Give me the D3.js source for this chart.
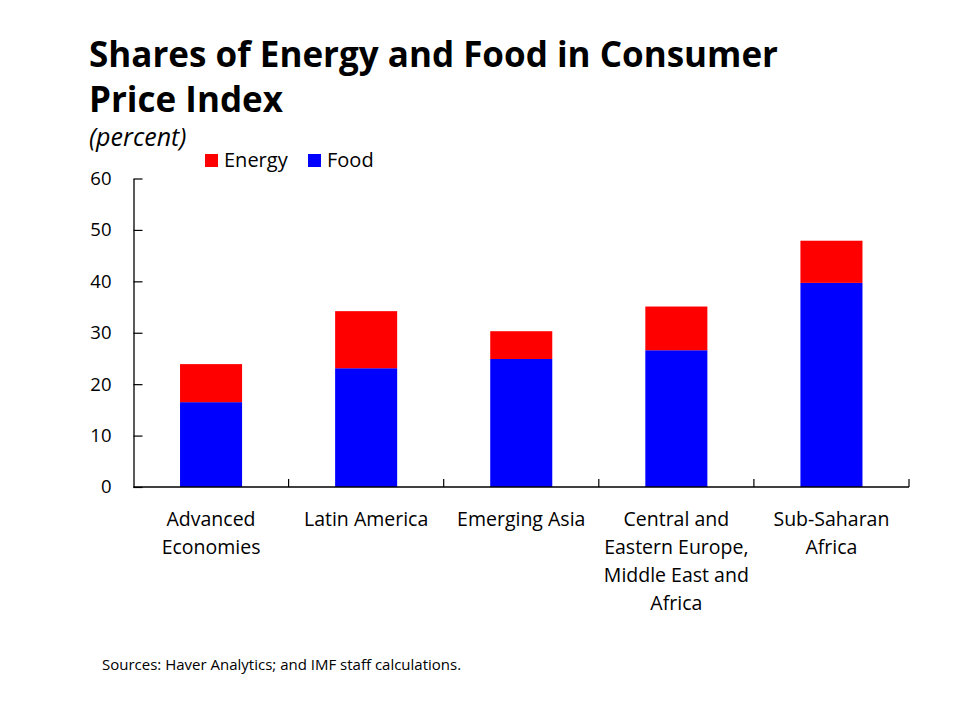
<!DOCTYPE html>
<html><head><meta charset="utf-8">
<script src="https://cdn.jsdelivr.net/npm/d3@7"></script>
<style>
body{margin:0;background:#fff;}
text{font-family:"Open Sans","Noto Sans",sans-serif;fill:#000;}
</style></head>
<body>
<svg id="chart" width="960" height="720"></svg>
<script>
const categories = [
  ["Advanced", "Economies"],
  ["Latin America"],
  ["Emerging Asia"],
  ["Central and", "Eastern Europe,", "Middle East and", "Africa"],
  ["Sub-Saharan", "Africa"]
];
const foodValues = [16.5, 23.1, 24.9, 26.6, 39.7];
const energyValues = [7.4, 11.1, 5.4, 8.5, 8.2];
const yTicks = [0, 10, 20, 30, 40, 50, 60];
const seriesNames = ["Energy", "Food"];
const seriesColors = {Energy: "#ff0000", Food: "#0000ff"};

const svg = d3.select("#chart");
const plotLeft = 133.5, plotRight = 909, plotTop = 178.5, plotBottom = 487;

const idx = categories.map((d, i) => i);
const x = d3.scaleBand().domain(idx).range([plotLeft, plotRight]).paddingInner(0.6).paddingOuter(0.3);
const xOuter = d3.scaleBand().domain(idx).range([plotLeft, plotRight]);
const y = d3.scaleLinear().domain([0, 60]).range([plotBottom, plotTop]);

const rows = idx.map(i => ({i, Food: foodValues[i], Energy: energyValues[i]}));
const stacked = d3.stack().keys(["Food", "Energy"])(rows);

svg.append("g").selectAll("g").data(stacked).join("g")
  .attr("fill", d => seriesColors[d.key])
  .selectAll("rect").data(d => d).join("rect")
  .attr("x", d => x(d.data.i))
  .attr("width", x.bandwidth())
  .attr("y", d => y(d[1]))
  .attr("height", d => y(d[0]) - y(d[1]));

// Y axis
const yAxis = svg.append("g").attr("transform", `translate(${plotLeft},0)`)
  .call(d3.axisLeft(y).tickValues(yTicks).tickSize(-9).tickPadding(22).tickSizeOuter(0));
yAxis.select(".domain").attr("stroke", "#000").attr("stroke-width", 1.3);
yAxis.selectAll(".tick line").attr("stroke", "#000").attr("stroke-width", 1.2);
yAxis.selectAll(".tick text").attr("font-size", 18.5).attr("fill", "#000")
  .attr("font-family", '"Open Sans","Noto Sans",sans-serif');

// X axis
const xAxisG = svg.append("g").attr("transform", `translate(0,${plotBottom})`);
xAxisG.append("line").attr("x1", plotLeft).attr("x2", plotRight).attr("stroke", "#000").attr("stroke-width", 1.3);
const boundaries = idx.map(i => xOuter(i) + xOuter.bandwidth());
xAxisG.selectAll("line.tk").data(boundaries).join("line").attr("class", "tk")
  .attr("x1", d => d).attr("x2", d => d).attr("y1", 0).attr("y2", -8)
  .attr("stroke", "#000").attr("stroke-width", 1.2);

// Category labels
const labG = svg.append("g");
categories.forEach((lines, i) => {
  const cx = xOuter(i) + xOuter.bandwidth() / 2;
  const t = labG.append("text").attr("text-anchor", "middle").attr("font-size", 19.5)
    .attr("x", cx).attr("y", 526);
  lines.forEach((ln, k) => t.append("tspan").attr("x", cx)
    .attr("dy", k === 0 ? 0 : 28).text(ln));
});

// Title
svg.append("text").attr("x", 89).attr("y", 67).attr("font-size", 35).attr("font-weight", "bold")
  .text("Shares of Energy and Food in Consumer");
svg.append("text").attr("x", 89).attr("y", 112).attr("font-size", 35).attr("font-weight", "bold")
  .text("Price Index");
svg.append("text").attr("x", 89).attr("y", 146).attr("font-size", 25).attr("font-style", "italic")
  .text("(percent)");

// Legend
const legendX = [205, 308];
seriesNames.forEach((s, i) => {
  svg.append("rect").attr("x", legendX[i]).attr("y", 154).attr("width", 13).attr("height", 13)
    .attr("fill", seriesColors[s]);
  svg.append("text").attr("x", legendX[i] + 19).attr("y", 167).attr("font-size", 20).text(s);
});

// Source
svg.append("text").attr("x", 102).attr("y", 670).attr("font-size", 15)
  .text("Sources: Haver Analytics; and IMF staff calculations.");
</script>
</body></html>
